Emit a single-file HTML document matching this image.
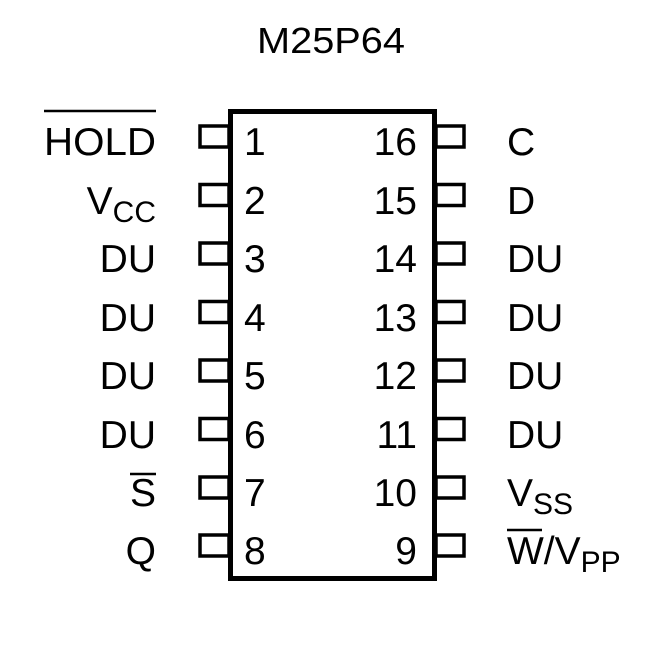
<!DOCTYPE html>
<html><head><style>html,body{margin:0;padding:0;background:#fff}svg{display:block}</style></head>
<body>
<svg width="659" height="652" viewBox="0 0 659 652" xmlns="http://www.w3.org/2000/svg" font-family="Liberation Sans, Arial, sans-serif" fill="#000">
<rect width="659" height="652" fill="#fff"/>
<text x="331" y="53" font-size="36" text-anchor="middle" textLength="148" lengthAdjust="spacingAndGlyphs">M25P64</text>
<rect x="230.5" y="111.5" width="204" height="467" fill="none" stroke="#000" stroke-width="5"/>
<g fill="none" stroke="#000" stroke-width="3.5">
<rect x="200" y="126" width="29" height="21"/><rect x="200" y="184.5" width="29" height="21"/>
<rect x="200" y="243" width="29" height="21"/><rect x="200" y="301.5" width="29" height="21"/>
<rect x="200" y="360" width="29" height="21"/><rect x="200" y="418.5" width="29" height="21"/>
<rect x="200" y="477" width="29" height="21"/><rect x="200" y="535" width="29" height="21"/>
<rect x="436" y="126" width="28" height="21"/><rect x="436" y="184.5" width="28" height="21"/>
<rect x="436" y="243" width="28" height="21"/><rect x="436" y="301.5" width="28" height="21"/>
<rect x="436" y="360" width="28" height="21"/><rect x="436" y="418.5" width="28" height="21"/>
<rect x="436" y="477" width="28" height="21"/><rect x="436" y="535" width="28" height="21"/>
</g>
<g font-size="39">
<text x="244" y="155">1</text><text x="244" y="214">2</text><text x="244" y="272">3</text><text x="244" y="331">4</text>
<text x="244" y="389">5</text><text x="244" y="448">6</text><text x="244" y="506">7</text><text x="244" y="564">8</text>
<g text-anchor="end">
<text x="417" y="155">16</text><text x="417" y="214">15</text><text x="417" y="272">14</text><text x="417" y="331">13</text>
<text x="417" y="389">12</text><text x="417" y="448">11</text><text x="417" y="506">10</text><text x="417" y="564">9</text>
<text x="156" y="155" textLength="112" lengthAdjust="spacingAndGlyphs">HOLD</text>
<text x="156" y="214">V<tspan font-size="30" dy="8">CC</tspan></text>
<text x="156" y="272">DU</text><text x="156" y="331">DU</text><text x="156" y="389">DU</text><text x="156" y="448">DU</text>
<text x="156" y="506">S</text><text x="156" y="564">Q</text>
</g>
<text x="507" y="155">C</text><text x="507" y="214">D</text>
<text x="507" y="272">DU</text><text x="507" y="331">DU</text><text x="507" y="389">DU</text><text x="507" y="448">DU</text>
<text x="507" y="506">V<tspan font-size="30" dy="8">SS</tspan></text>
<text x="507" y="564">W/V<tspan font-size="30" dy="8">PP</tspan></text>
</g>
<g stroke="#000" stroke-width="2.5">
<line x1="44" y1="111" x2="156" y2="111"/>
<line x1="130" y1="474" x2="156" y2="474"/>
<line x1="507" y1="530" x2="542" y2="530"/>
</g>
</svg>
</body></html>
